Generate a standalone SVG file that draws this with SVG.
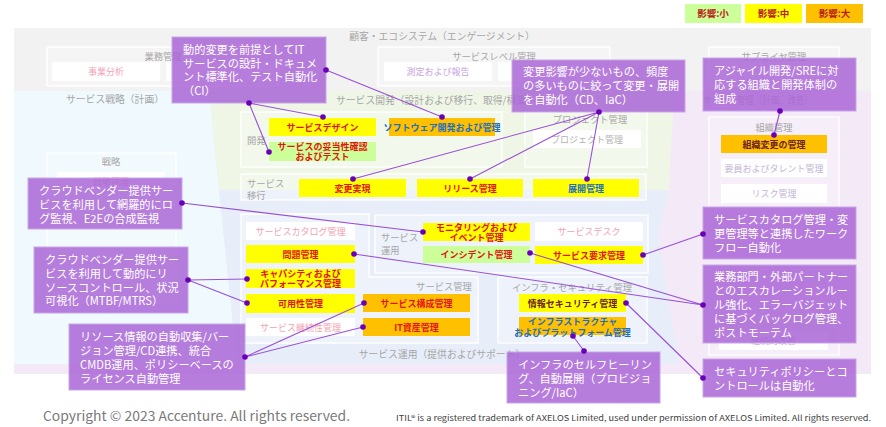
<svg xmlns="http://www.w3.org/2000/svg" width="886" height="427" viewBox="0 0 886 427">
<style>
text{font-family:"Noto Sans CJK JP","Noto Sans",sans-serif}
.rl{font-size:9.8px;fill:#a6a6a6}
.gl{font-size:9.3px;fill:#a6a6a6}
.grp{fill:#ffffff;fill-opacity:0.25;stroke:#ffffff;stroke-width:1.3}
.wb{fill:#ffffff}
.y{fill:#ffff00}.o{fill:#ffc000}.g{fill:#ccff99}
.bt{font-size:9px;font-weight:bold;text-anchor:middle}
.r{fill:#e31414}.b{fill:#1e6fbd}.d{fill:#6b1f1f}
.pk{font-size:9px;text-anchor:middle;fill:#f2a3b3}
.pl{font-size:9px;text-anchor:middle;fill:#c9a3dd}
.gt{font-size:9px;text-anchor:middle;fill:#b3b3b3}
.co{fill:#a966d6;fill-opacity:0.85;stroke:#c8a5e6;stroke-width:1}
.ct{font-size:11.2px;fill:#ffffff}
.ln{stroke:#9850d8;stroke-width:1.1;fill:none}
.dt{fill:#6a00b8}
.lg{font-size:9.5px;fill:#b81c1c;text-anchor:middle;font-weight:bold}
</style>

<g id="background">
<rect x="14" y="28" width="857" height="346" fill="#f3e9f7"/>
<rect x="14" y="28" width="857" height="63" fill="#f2f2f2"/>
<polygon points="14,91 209,91 237,364 14,364" fill="#eff9fe"/>
<polygon points="209,91 674,91 669,190 219,190" fill="#eff6e6"/>
<polygon points="219,190 669,190 658,235 679,364 237,364" fill="#e7eefa"/>
<text class="rl" x="442" y="40" text-anchor="middle">顧客・エコシステム（エンゲージメント）</text>
<text class="rl" x="115" y="103" text-anchor="middle">サービス戦略（計画）</text>
<text class="rl" x="336" y="104">サービス開発（設計および移行、取得/構築）</text>
<text class="rl" x="442" y="358" text-anchor="middle">サービス運用（提供およびサポート）</text>
<text class="rl" x="703" y="104" textLength="110" lengthAdjust="spacingAndGlyphs">サービス管理（計画、改善）</text>
</g>

<g id="legend">
<rect x="685" y="4" width="56" height="19" fill="#ccff99"/>
<text class="lg" x="713" y="17">影響:小</text>
<rect x="745" y="4" width="57" height="19" fill="#ffff00"/>
<text class="lg" x="773.5" y="17">影響:中</text>
<rect x="806" y="4" width="57" height="19" fill="#ffc000"/>
<text class="lg" x="834.5" y="17">影響:大</text>
</g>

<g id="business-mgmt">
<rect class="grp" x="47" y="47" width="232" height="39"/>
<text class="gl" x="163" y="60" text-anchor="middle">業務管理</text>
<rect class="wb" x="52" y="62" width="108" height="19"/>
<text class="pk" x="106" y="75">事業分析</text>
<rect class="wb" x="166" y="62" width="108" height="19"/>
</g>

<g id="service-level-mgmt">
<rect class="grp" x="378" y="47" width="232" height="39"/>
<text class="gl" x="494" y="60" text-anchor="middle">サービスレベル管理</text>
<rect class="wb" x="384" y="62" width="108" height="19"/>
<text class="pl" x="438" y="75">測定および報告</text>
<rect class="wb" x="498" y="62" width="106" height="19"/>
</g>

<g id="supplier-mgmt">
<rect class="grp" x="709" y="47" width="130" height="39"/>
<text class="gl" x="774" y="60" text-anchor="middle">サプライヤ管理</text>
<rect class="wb" x="715" y="62" width="118" height="19"/>
</g>

<g id="strategy">
<rect class="grp" x="47" y="153" width="129" height="150"/>
<text class="gl" x="111" y="165" text-anchor="middle">戦略</text>
<rect class="wb" x="57" y="172" width="108" height="18"/>
<text class="pk" x="111" y="184.5">戦略管理</text>
</g>

<g id="dev">
<rect class="grp" x="241" y="112" width="261" height="55"/>
<text class="gl" x="247" y="143.5">開発</text>
<rect class="y" x="269" y="118" width="107" height="18"/>
<text class="bt r" x="322.5" y="130.5">サービスデザイン</text>
<rect class="o" x="389" y="118" width="106" height="18"/>
<text class="bt b" x="442" y="130.5">ソフトウェア開発および管理</text>
<rect class="g" x="269" y="142" width="107" height="19"/>
<text class="bt r" x="322.5" y="149.5">サービスの妥当性確認</text>
<text class="bt r" x="322.5" y="160">およびテスト</text>
</g>

<g id="project-mgmt">
<rect class="grp" x="525" y="112" width="122" height="55"/>
<text class="gl" x="590" y="122.5" text-anchor="middle">プロジェクト管理</text>
<rect class="wb" x="533" y="130" width="108" height="18"/>
<text class="gt" x="587" y="142.5">プロジェクト管理</text>
</g>

<g id="transition">
<rect class="grp" x="241" y="174" width="405" height="26"/>
<text class="gl" x="247" y="186.5">サービス</text>
<text class="gl" x="247" y="198.5">移行</text>
<rect class="y" x="299" y="179" width="107" height="18"/>
<text class="bt r" x="352.5" y="191.5">変更実現</text>
<rect class="y" x="417" y="179" width="106" height="18"/>
<text class="bt r" x="470" y="191.5">リリース管理</text>
<rect class="y" x="533" y="179" width="106" height="18"/>
<text class="bt b" x="586" y="191.5">展開管理</text>
</g>

<g id="service-mgmt">
<path class="grp" d="M241,214 H369 V277 H478 V343 H241 Z"/>
<text class="gl" x="444" y="290" text-anchor="middle">サービス管理</text>
<rect class="wb" x="246" y="222" width="109" height="18"/>
<text class="pk" x="300.5" y="234.5">サービスカタログ管理</text>
<rect class="y" x="246" y="245" width="109" height="18"/>
<text class="bt r" x="300.5" y="257.5">問題管理</text>
<rect class="y" x="246" y="269" width="109" height="19"/>
<text class="bt r" x="300.5" y="276.5">キャパシティおよび</text>
<text class="bt r" x="300.5" y="286.5">パフォーマンス管理</text>
<rect class="y" x="246" y="294" width="109" height="19"/>
<text class="bt r" x="300.5" y="306.5">可用性管理</text>
<rect class="wb" x="246" y="318" width="109" height="18"/>
<text class="pk" x="300.5" y="330.5">サービス継続性管理</text>
<rect class="o" x="363" y="294" width="107" height="18"/>
<text class="bt r" x="416.5" y="306.5">サービス構成管理</text>
<rect class="o" x="363" y="318" width="107" height="18"/>
<text class="bt r" x="416.5" y="330.5">IT資産管理</text>
</g>

<g id="service-operation">
<rect class="grp" x="375" y="215" width="273" height="58"/>
<text class="gl" x="381" y="241">サービス</text>
<text class="gl" x="381" y="254">運用</text>
<rect class="y" x="423" y="223" width="107" height="18"/>
<text class="bt r" x="476.5" y="230.5">モニタリングおよび</text>
<text class="bt r" x="476.5" y="240.5">イベント管理</text>
<rect class="g" x="423" y="246" width="107" height="17"/>
<text class="bt r" x="476.5" y="258">インシデント管理</text>
<rect class="wb" x="535" y="222" width="108" height="19"/>
<text class="pk" x="589" y="235">サービスデスク</text>
<rect class="y" x="535" y="246" width="108" height="18"/>
<text class="bt r" x="589" y="258.5">サービス要求管理</text>
</g>

<g id="infra-security">
<rect class="grp" x="498" y="277" width="149" height="66"/>
<text class="gl" x="572" y="290.5" text-anchor="middle">インフラ・セキュリティ管理</text>
<rect class="y" x="519" y="294" width="107" height="18"/>
<text class="bt d" x="572.5" y="306.5">情報セキュリティ管理</text>
<rect class="o" x="519" y="317" width="107" height="18"/>
<text class="bt b" x="572.5" y="324.5">インフラストラクチャ</text>
<text class="bt b" x="572.5" y="335.5">およびプラットフォーム管理</text>
</g>

<g id="org-mgmt">
<rect class="grp" x="709" y="117" width="130" height="92"/>
<text class="gl" x="774" y="130.5" text-anchor="middle">組織管理</text>
<rect class="o" x="721" y="135" width="106" height="18"/>
<text class="bt d" x="774" y="147.5">組織変更の管理</text>
<rect class="wb" x="721" y="159" width="106" height="18"/>
<text class="gt" x="774" y="171.5" style="fill:#c4b4d4">要員およびタレント管理</text>
<rect class="wb" x="721" y="184" width="106" height="19"/>
<text class="gt" x="774" y="197" style="fill:#c4b4d4">リスク管理</text>
</g>

<g id="improvement">
<rect class="grp" x="709" y="318" width="130" height="37"/>
<rect class="wb" x="719" y="331" width="109" height="19"/>
<text class="gt" x="773.5" y="344" style="fill:#c4b4d4">継続的改善</text>
</g>

<g id="callout-ci">
<rect class="co" x="172" y="37" width="154" height="66"/>
<text class="ct" x="183" y="54">動的変更を前提としてIT</text>
<text class="ct" x="183" y="67.5">サービスの設計・ドキュメ</text>
<text class="ct" x="183" y="81">ント標準化、テスト自動化</text>
<text class="ct" x="183" y="94.5">（CI）</text>
</g>

<g id="callout-cd">
<rect class="co" x="512" y="60" width="173" height="52"/>
<text class="ct" x="523" y="75.5">変更影響が少ないもの、頻度</text>
<text class="ct" x="523" y="89.5">の多いものに絞って変更・展開</text>
<text class="ct" x="523" y="104">を自動化（CD、IaC）</text>
</g>

<g id="callout-agile">
<rect class="co" x="703" y="58" width="153" height="53"/>
<text class="ct" x="714" y="75">アジャイル開発/SREに対</text>
<text class="ct" x="714" y="89">応する組織と開発体制の</text>
<text class="ct" x="714" y="103">組成</text>
</g>

<g id="callout-workflow">
<rect class="co" x="703" y="207" width="153" height="52"/>
<text class="ct" x="714" y="224">サービスカタログ管理・変</text>
<text class="ct" x="714" y="238">更管理等と連携したワーク</text>
<text class="ct" x="714" y="252">フロー自動化</text>
</g>

<g id="callout-escalation">
<rect class="co" x="703" y="265" width="153" height="78"/>
<text class="ct" x="714" y="281">業務部門・外部パートナー</text>
<text class="ct" x="714" y="295">とのエスカレーションルー</text>
<text class="ct" x="714" y="309">ル強化、エラーバジェット</text>
<text class="ct" x="714" y="323">に基づくバックログ管理、</text>
<text class="ct" x="714" y="336.5">ポストモーテム</text>
</g>

<g id="callout-security">
<rect class="co" x="703" y="359" width="153" height="38"/>
<text class="ct" x="714" y="376">セキュリティポリシーとコ</text>
<text class="ct" x="714" y="390">ントロールは自動化</text>
</g>

<g id="callout-selfheal">
<rect class="co" x="507" y="352" width="153" height="51"/>
<text class="ct" x="518" y="369">インフラのセルフヒーリン</text>
<text class="ct" x="518" y="383">グ、自動展開（プロビジョ</text>
<text class="ct" x="518" y="396.5">ニング/IaC）</text>
</g>

<g id="callout-logging">
<rect class="co" x="28" y="178" width="154" height="51"/>
<text class="ct" x="39" y="195">クラウドベンダー提供サー</text>
<text class="ct" x="39" y="209">ビスを利用して網羅的にロ</text>
<text class="ct" x="39" y="222.5">グ監視、E2Eの合成監視</text>
</g>

<g id="callout-resource">
<rect class="co" x="34" y="247" width="154" height="66"/>
<text class="ct" x="45" y="264">クラウドベンダー提供サー</text>
<text class="ct" x="45" y="278">ビスを利用して動的にリ</text>
<text class="ct" x="45" y="291.5">ソースコントロール、状況</text>
<text class="ct" x="45" y="305">可視化（MTBF/MTRS）</text>
</g>

<g id="callout-cmdb">
<rect class="co" x="69" y="324" width="176" height="66"/>
<text class="ct" x="80" y="341">リソース情報の自動収集/バー</text>
<text class="ct" x="80" y="355">ジョン管理/CD連携、統合</text>
<text class="ct" x="80" y="369">CMDB運用、ポリシーベースの</text>
<text class="ct" x="80" y="383">ライセンス自動管理</text>
</g>

<g id="connectors">
<path class="ln" d="M249,103 L323,117 M249,103 L269,152 M326,70 L442,117"/>
<path class="ln" d="M599,112 L353,179 M599,112 L470,179 M599,112 L587,179"/>
<path class="ln" d="M780,111 L774,135"/>
<path class="ln" d="M703,234 L643,255"/>
<path class="ln" d="M703,305 L530,253 M703,305 L354,254"/>
<path class="ln" d="M703,378 L626,303"/>
<path class="ln" d="M584,351 L573,336"/>
<path class="ln" d="M182,203 L423,232"/>
<path class="ln" d="M188,280 L247,279 M188,280 L247,303"/>
<path class="ln" d="M245,357 L364,303 M245,357 L363,327"/>
<g class="dt">
<circle cx="249" cy="103" r="2.8"/><circle cx="323" cy="117" r="2.8"/><circle cx="269" cy="152" r="2.8"/>
<circle cx="326" cy="70" r="2.8"/><circle cx="442" cy="117" r="2.8"/>
<circle cx="599" cy="112" r="2.8"/><circle cx="353" cy="179" r="2.8"/><circle cx="470" cy="179" r="2.8"/><circle cx="587" cy="179" r="2.8"/>
<circle cx="780" cy="111" r="2.8"/><circle cx="774" cy="135" r="2.8"/>
<circle cx="703" cy="234" r="2.8"/><circle cx="643" cy="255" r="2.8"/>
<circle cx="703" cy="305" r="2.8"/><circle cx="530" cy="253" r="2.8"/><circle cx="354" cy="254" r="2.8"/>
<circle cx="703" cy="378" r="2.8"/><circle cx="626" cy="303" r="2.8"/>
<circle cx="584" cy="351" r="2.8"/><circle cx="573" cy="336" r="2.8"/>
<circle cx="182" cy="203" r="2.8"/><circle cx="423" cy="232" r="2.8"/>
<circle cx="188" cy="280" r="2.8"/><circle cx="247" cy="279" r="2.8"/><circle cx="247" cy="303" r="2.8"/>
<circle cx="245" cy="357" r="2.8"/><circle cx="364" cy="303" r="2.8"/><circle cx="363" cy="327" r="2.8"/>
</g>
</g>

<g id="footer">
<text x="43" y="421" font-family="'Liberation Sans',sans-serif" font-size="13.5" fill="#7a7a7a" textLength="307" lengthAdjust="spacingAndGlyphs">Copyright © 2023 Accenture. All rights reserved.</text>
<text x="396" y="421" font-family="'Liberation Sans',sans-serif" font-size="8" fill="#404040" textLength="475" lengthAdjust="spacingAndGlyphs">ITIL® is a registered trademark of AXELOS Limited, used under permission of AXELOS Limited. All rights reserved.</text>
</g>
</svg>
